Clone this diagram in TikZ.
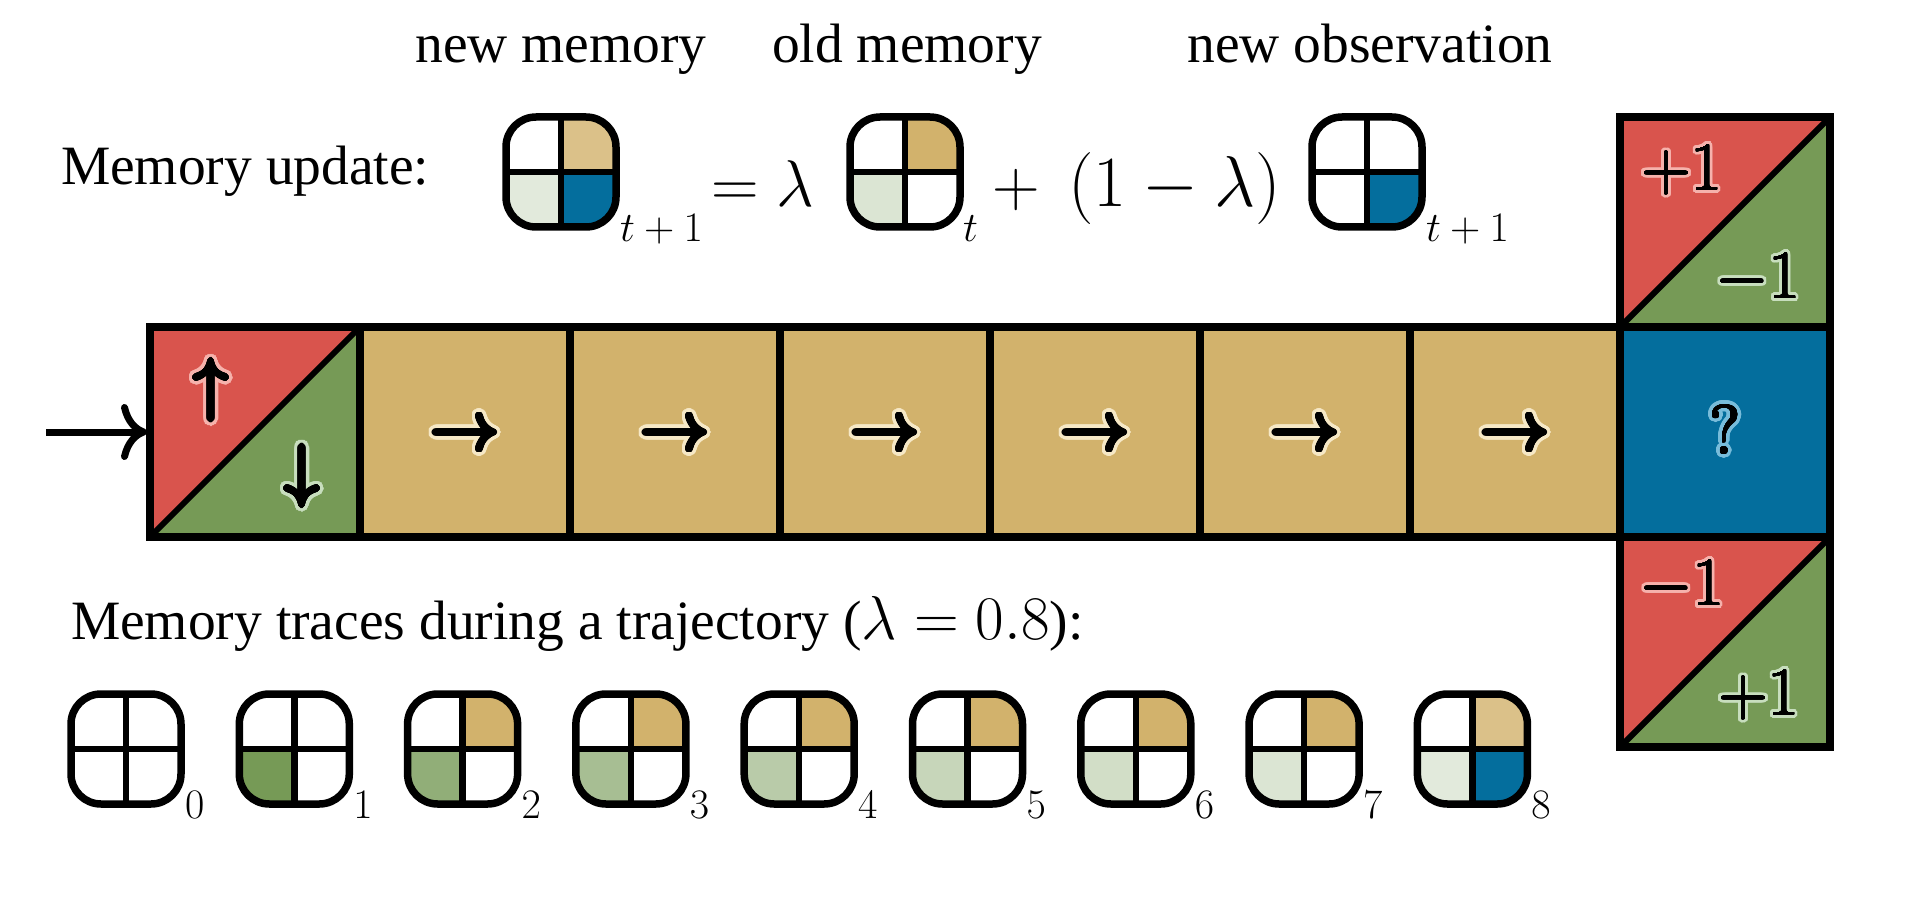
\RequirePackage{fix-cm}
\documentclass[tikz,border=0pt]{standalone}
\usepackage[no-math]{fontspec}
\setmainfont{Liberation Serif}
\usepackage[copies]{contour}
\usetikzlibrary{arrows.meta}
\contournumber{40}

\definecolor{cred}{RGB}{217,84,77}
\definecolor{cgreen}{RGB}{118,154,86}
\definecolor{ctan}{RGB}{210,178,108}
\definecolor{cblue}{RGB}{4,110,157}
\definecolor{hred}{RGB}{246,178,172}
\definecolor{hgreen}{RGB}{200,222,190}
\definecolor{htan}{RGB}{246,232,198}
\definecolor{hblue}{RGB}{120,188,218}

% #1 halo colour, #2 halo reach, #3 stroke thickening, #4 text
\newcommand\halo[4]{%
  \makebox[0pt]{\contourlength{#2}\contour{#1}{\textcolor{#1}{#4}}}%
  \makebox[0pt]{\contourlength{#3}\contour{black}{#4}}}

\tikzset{
  every node/.style={inner sep=0pt, outer sep=0pt},
  cell/.style={draw, line width=8pt, minimum width=210pt, minimum height=210pt},
  lbl/.style={font=\fontsize{68}{80}\selectfont},
  txt/.style={font=\fontsize{55.5}{66}\selectfont, anchor=base west},
  toplbl/.style={font=\fontsize{55.5}{66}\selectfont, anchor=base},
  eq/.style={font=\fontsize{66}{78}\selectfont, anchor=base west},
  sub/.style={font=\fontsize{42}{48}\selectfont, anchor=base west},
  memicon/.style n args={4}{draw, line width=7.5pt, rounded corners=30pt,
    minimum width=110pt, minimum height=110pt,
    path picture={
      \begin{scope}[sharp corners]
      \fill[#1] (path picture bounding box.north west) rectangle (path picture bounding box.center);
      \fill[#2] (path picture bounding box.north east) rectangle (path picture bounding box.center);
      \fill[#3] (path picture bounding box.south west) rectangle (path picture bounding box.center);
      \fill[#4] (path picture bounding box.south east) rectangle (path picture bounding box.center);
      \draw[line width=6.5pt] (path picture bounding box.north) -- (path picture bounding box.south)
        (path picture bounding box.west) -- (path picture bounding box.east);
      \end{scope}}},
  split/.style 2 args={cell, path picture={
      \fill[#1] (path picture bounding box.north west) -- (path picture bounding box.north east)
        -- (path picture bounding box.south west) -- cycle;
      \fill[#2] (path picture bounding box.north east) -- (path picture bounding box.south east)
        -- (path picture bounding box.south west) -- cycle;
      \draw[line width=6pt] (path picture bounding box.south west) -- (path picture bounding box.north east);}},
}

\begin{document}
\begin{tikzpicture}[x=1pt, y=-1pt]
\useasboundingbox (0,0) rectangle (1912,920);

% ---- header labels ----
\node[toplbl] (lnew) at (561,63) {new memory};
\node[toplbl] (lold) at (907,63) {old memory};
\node[toplbl] (lobs) at (1370,63) {new observation};

% ---- memory update equation ----
\node[txt] (upd) at (61,185) {Memory update:};
\node[memicon={white}{ctan!80}{cgreen!21}{cblue}] (e1) at (561,172) {};
\node[sub] (s1) at (620,242) {$t+1$};
\node[eq] (eqlam) at (711,207) {$=\lambda$};
\node[memicon={white}{ctan}{cgreen!26}{white}] (e2) at (905,172) {};
\node[sub] (s2) at (963,242) {$t$};
\node[eq, anchor=base] (plus) at (1016,207) {$+$};
\node[eq, font=\fontsize{72}{84}\selectfont] (onem) at (1068,207) {$(1-\lambda)$};
\node[memicon={white}{white}{white}{cblue}] (e3) at (1367,172) {};
\node[sub] (s3) at (1426,242) {$t+1$};

% ---- corridor ----
\node[split={cred}{cgreen}] (fork) at (255,432) {};
\node[lbl] (up) at (211,393) {\halo{hred}{6pt}{2.2pt}{$\uparrow$}};
\node[lbl] (down) at (302,479) {\halo{hgreen}{6pt}{2.2pt}{$\downarrow$}};
\foreach \i in {1,...,6}{
  \node[cell, fill=ctan] (c\i) at (255+210*\i,432) {};
  \node[lbl] (a\i) at (255+210*\i,440) {\halo{htan}{6pt}{2.2pt}{$\rightarrow$}};
}
\node[cell, fill=cblue] (goal) at (1725,432) {};
\node[lbl] (q) at (goal.center) {\halo{hblue}{4.8pt}{1.2pt}{$?$}};
\node[split={cred}{cgreen}] (topc) at (1725,222) {};
\node[lbl] (tp) at (1682,172) {\halo{hred}{3.8pt}{0.3pt}{$+1$}};
\node[lbl] (tm) at (1758,281) {\halo{hgreen}{3.8pt}{0.3pt}{$-1$}};
\node[split={cred}{cgreen}] (botc) at (1725,642) {};
\node[lbl] (bm) at (1682,588) {\halo{hred}{3.8pt}{0.3pt}{$-1$}};
\node[lbl] (bp) at (1759,697) {\halo{hgreen}{3.8pt}{0.3pt}{$+1$}};

\coordinate (start) at (46,432);
\draw[line width=7pt, -{Computer Modern Rightarrow[length=26pt,width=56pt]}] (start) -- ([xshift=-3pt]fork.west);

% ---- memory traces ----
\node[txt] (traces) at (71,639) {Memory traces during a trajectory ({\fontsize{62}{70}\selectfont$\lambda=0.8$}):};
\node[memicon={white}{white}{white}{white}] (m0) at (126,749) {};
\node[memicon={white}{white}{cgreen}{white}] (m1) at (294.3,749) {};
\node[memicon={white}{ctan}{cgreen!80}{white}] (m2) at (462.6,749) {};
\node[memicon={white}{ctan}{cgreen!64}{white}] (m3) at (630.9,749) {};
\node[memicon={white}{ctan}{cgreen!51}{white}] (m4) at (799.2,749) {};
\node[memicon={white}{ctan}{cgreen!41}{white}] (m5) at (967.5,749) {};
\node[memicon={white}{ctan}{cgreen!33}{white}] (m6) at (1135.8,749) {};
\node[memicon={white}{ctan}{cgreen!26}{white}] (m7) at (1304.1,749) {};
\node[memicon={white}{ctan!80}{cgreen!21}{cblue}] (m8) at (1472.4,749) {};
\foreach \i in {0,...,8}{
  \node[sub] (t\i) at ([xshift=4pt]m\i.east |- 0,818) {$\i$};
}
\end{tikzpicture}
\end{document}
